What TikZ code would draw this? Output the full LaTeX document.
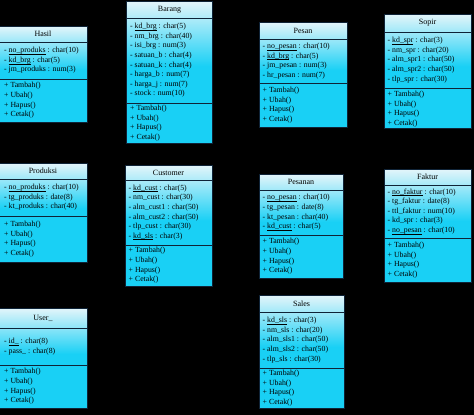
\documentclass[tikz,border=0pt]{standalone}
\usepackage{fontspec}
\setmainfont{Liberation Serif}
\usepackage{tikz}

\definecolor{biru}{RGB}{25,208,245}
\definecolor{terang}{RGB}{228,245,250}
\definecolor{garis}{RGB}{15,35,55}
\pgfdeclareverticalshading{kelasgrad}{100bp}{color(0bp)=(biru); color(52bp)=(biru); color(75bp)=(terang); color(100bp)=(terang)}
\newcommand{\kunci}[1]{\underline{\smash{#1}}}

\begin{document}
\begin{tikzpicture}[x=1pt, y=-1pt,
  kelas/.style={draw=garis, line width=0.7pt, shading=kelasgrad},
  sekat/.style={draw=garis, line width=0.6pt},
  judul/.style={font=\fontsize{8}{9.6}\selectfont, inner sep=0pt},
  isi/.style={font=\fontsize{7.8}{9.6}\selectfont, align=left, anchor=west, inner sep=0pt}]
\fill[black] (0,0) rectangle (474,415);
\useasboundingbox (0,0) rectangle (474,415);

% Hasil
\draw[kelas] (-1,26) rectangle (87,122);
\draw[sekat] (-1,42) -- (87,42);
\draw[sekat] (-1,79) -- (87,79);
\node[judul] (hasil) at (43,34) {Hasil};
\node[isi] (hasil-atr) at (4,60.5) {- \kunci{no\_produks} : char(10)\\- \kunci{kd\_brg} : char(5)\\- jm\_produks : num(3)};
\node[isi] (hasil-op) at (4,100.5) {+ Tambah()\\+ Ubah()\\+ Hapus()\\+ Cetak()};

% Barang
\draw[kelas] (126.5,1) rectangle (212,143);
\draw[sekat] (126.5,18) -- (212,18);
\draw[sekat] (126.5,103) -- (212,103);
\node[judul] (barang) at (169.5,9.5) {Barang};
\node[isi] (barang-atr) at (130,60.5) {- \kunci{kd\_brg} : char(5)\\- nm\_brg : char(40)\\- isi\_brg : num(3)\\- satuan\_b : char(4)\\- satuan\_k : char(4)\\- harga\_b : num(7)\\- harga\_j : num(7)\\- stock : num(10)};
\node[isi] (barang-op) at (130,123) {+ Tambah()\\+ Ubah()\\+ Hapus()\\+ Cetak()};

% Pesan
\draw[kelas] (259,22) rectangle (347,127);
\draw[sekat] (259,39) -- (347,39);
\draw[sekat] (259,83) -- (347,83);
\node[judul] (pesan) at (303,30.5) {Pesan};
\node[isi] (pesan-atr) at (262.5,61) {- \kunci{no\_pesan} : char(10)\\- \kunci{kd\_brg} : char(5)\\- jm\_pesan : num(3)\\- hr\_pesan : num(7)};
\node[isi] (pesan-op) at (262.5,105) {+ Tambah()\\+ Ubah()\\+ Hapus()\\+ Cetak()};

% Sopir
\draw[kelas] (384,14) rectangle (471,128);
\draw[sekat] (384,32) -- (471,32);
\draw[sekat] (384,88) -- (471,88);
\node[judul] (sopir) at (427.5,23) {Sopir};
\node[isi] (sopir-atr) at (387.5,60) {- \kunci{kd\_spr} : char(3)\\- nm\_spr : char(20)\\- alm\_spr1 : char(50)\\- alm\_spr2 : char(50)\\- tlp\_spr : char(30)};
\node[isi] (sopir-op) at (387.5,109) {+ Tambah()\\+ Ubah()\\+ Hapus()\\+ Cetak()};

% Produksi
\draw[kelas] (-1,163) rectangle (87,262);
\draw[sekat] (-1,179) -- (87,179);
\draw[sekat] (-1,216) -- (87,216);
\node[judul] (produksi) at (43,171) {Produksi};
\node[isi] (produksi-atr) at (4,197.5) {- \kunci{no\_produks} : char(10)\\- tg\_produks : date(8)\\- kt\_produks : char(40)};
\node[isi] (produksi-op) at (4,239) {+ Tambah()\\+ Ubah()\\+ Hapus()\\+ Cetak()};

% Customer
\draw[kelas] (125,165) rectangle (212,286);
\draw[sekat] (125,180) -- (212,180);
\draw[sekat] (125,245) -- (212,245);
\node[judul] (customer) at (168.5,172.5) {Customer};
\node[isi] (customer-atr) at (128.5,212.5) {- \kunci{kd\_cust} : char(5)\\- nm\_cust : char(30)\\- alm\_cust1 : char(50)\\- alm\_cust2 : char(50)\\- tlp\_cust : char(30)\\- \kunci{kd\_sls} : char(3)};
\node[isi] (customer-op) at (128.5,265.5) {+ Tambah()\\+ Ubah()\\+ Hapus()\\+ Cetak()};

% Pesanan
\draw[kelas] (259,174) rectangle (343,278);
\draw[sekat] (259,190) -- (343,190);
\draw[sekat] (259,235) -- (343,235);
\node[judul] (pesanan) at (301,182) {Pesanan};
\node[isi] (pesanan-atr) at (262.5,212.5) {- \kunci{no\_pesan} : char(10)\\- tg\_pesan : date(8)\\- kt\_pesan : char(40)\\- \kunci{kd\_cust} : char(5)};
\node[isi] (pesanan-op) at (262.5,256.5) {+ Tambah()\\+ Ubah()\\+ Hapus()\\+ Cetak()};

% Faktur
\draw[kelas] (384,169) rectangle (471,282);
\draw[sekat] (384,185) -- (471,185);
\draw[sekat] (384,238) -- (471,238);
\node[judul] (faktur) at (427.5,177) {Faktur};
\node[isi] (faktur-atr) at (387.5,211.5) {- \kunci{no\_faktur} : char(10)\\- tg\_faktur : date(8)\\- ttl\_faktur : num(10)\\- kd\_spr : char(3)\\- \kunci{no\_pesan} : char(10)};
\node[isi] (faktur-op) at (387.5,260) {+ Tambah()\\+ Ubah()\\+ Hapus()\\+ Cetak()};

% User_
\draw[kelas] (-1,308) rectangle (87,408);
\draw[sekat] (-1,328) -- (87,328);
\draw[sekat] (-1,365) -- (87,365);
\node[judul] (user) at (43,318) {User\_};
\node[isi] (user-atr) at (4,346.5) {- \kunci{id\_} : char(8)\\- pass\_ : char(8)};
\node[isi] (user-op) at (4,386.5) {+ Tambah()\\+ Ubah()\\+ Hapus()\\+ Cetak()};

% Sales
\draw[kelas] (259,295) rectangle (344,408);
\draw[sekat] (259,312) -- (344,312);
\draw[sekat] (259,368) -- (344,368);
\node[judul] (sales) at (301.5,303.5) {Sales};
\node[isi] (sales-atr) at (262.5,340) {- \kunci{kd\_sls} : char(3)\\- nm\_sls : char(20)\\- alm\_sls1 : char(50)\\- alm\_sls2 : char(50)\\- tlp\_sls : char(30)};
\node[isi] (sales-op) at (262.5,388) {+ Tambah()\\+ Ubah()\\+ Hapus()\\+ Cetak()};
\end{tikzpicture}
\end{document}
